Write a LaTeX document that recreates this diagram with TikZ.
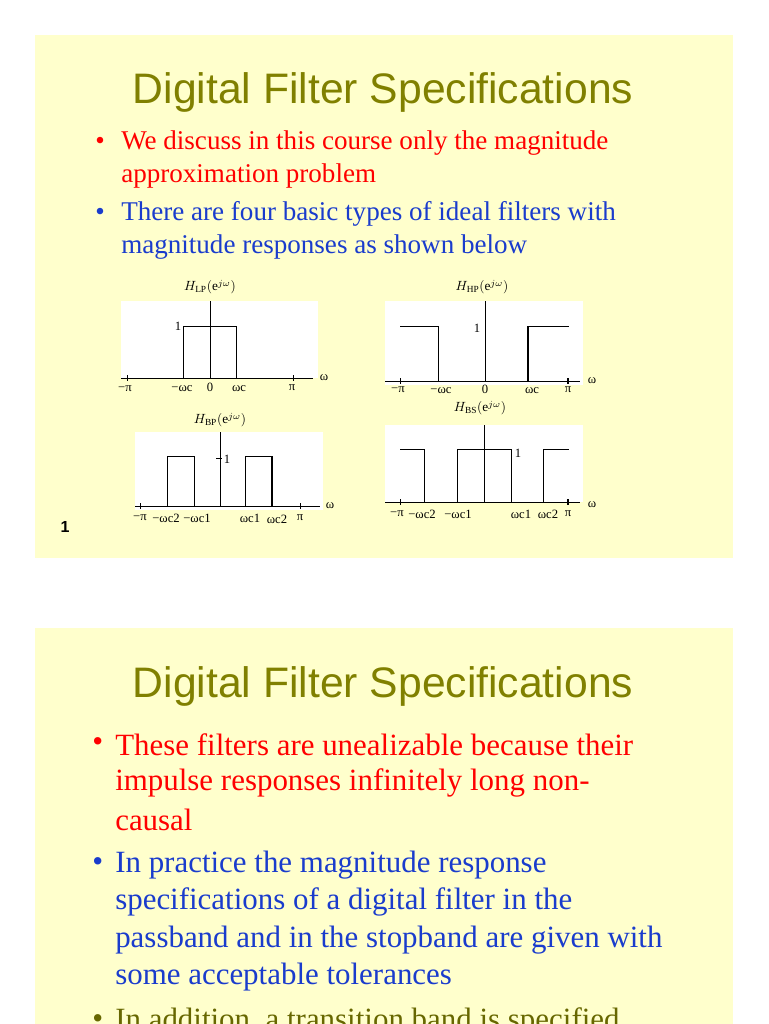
\documentclass[tikz,border=0pt]{standalone}
\usepackage{fontspec}
\setmainfont{Liberation Serif}
\newfontfamily\titlefont{Liberation Sans}
\definecolor{slidebg}{HTML}{FFFFCC}
\definecolor{titlecol}{HTML}{808000}
\definecolor{bred}{HTML}{FF0000}
\definecolor{bblue}{HTML}{1A3CCC}
\begin{document}
\begin{tikzpicture}[x=0.75pt,y=-0.75pt,
  title/.style={font=\titlefont\fontsize{32}{34}\selectfont,text=titlecol},
  bulA/.style={anchor=west,inner sep=0,font=\fontsize{20.3}{22}\selectfont},
  bulB/.style={anchor=west,inner sep=0,font=\fontsize{23.2}{26}\selectfont},
  lab/.style={font=\fontsize{9.5}{10}\selectfont,inner sep=1pt},
  hlab/.style={font=\fontsize{10}{11}\selectfont,inner sep=1pt},
  curve/.style={line width=0.6pt}]
\useasboundingbox (0,0) rectangle (768,1024);
\clip (0,0) rectangle (768,1024);
\fill[white] (0,0) rectangle (768,1024);
\fill[slidebg] (35,35) rectangle (733,558);
\fill[slidebg] (35,628) rectangle (733,1030);
% slide 1
\node[title] (t1) at (383,92) {Digital Filter Specifications};
\node[bulA,text=bred] (b1) at (95,143) {•};
\node[bulA,text=bred] (b1a) at (121,143) {We discuss in this course only the magnitude};
\node[bulA,text=bred] (b1b) at (121,176) {approximation problem};
\node[bulA,text=bblue] (b2) at (95,214) {•};
\node[bulA,text=bblue] (b2a) at (121,214) {There are four basic types of ideal filters with};
\node[bulA,text=bblue] (b2b) at (121,247) {magnitude responses as shown below};
\node[font=\titlefont\bfseries\fontsize{12}{12}\selectfont] (pg) at (65,527) {1};
% LP
\fill[white] (121,301) rectangle (318,378);
\draw (121,378) -- (313,378);
\draw (127,375) -- (127,381); \draw (293,375) -- (293,381);
\draw (210,301) -- (210,378);
\draw[curve] (183,378) -- (183,326) -- (236,326) -- (236,378);
\node[hlab] (hlp) at (210,287) {$H_{\mathrm{LP}}(\mathrm{e}^{j\omega})$};
\node[lab] (l1) at (178,326) {1};
\node[lab] (lw) at (324,378) {ω};
\node[lab] (lm) at (125,389) {−π};
\node[lab] (lmc) at (182,389) {−ωc};
\node[lab] (l0) at (210,387) {0};
\node[lab] (lc) at (239,389) {ωc};
\node[lab] (lp) at (292,388) {π};
% HP
\fill[white] (385,301) rectangle (583,385);
\draw (385,381) -- (580,381);
\draw (400,378) -- (400,384); \draw[thick] (568,378) -- (568,384);
\draw (485,301) -- (485,381);
\draw[curve] (400,326) -- (438,326) -- (438,381);
\draw[curve] (528,381) -- (528,326) -- (569,326);
\draw[line width=1.2pt] (528,381) -- (528,326);
\node[hlab] (hhp) at (482,287) {$H_{\mathrm{HP}}(\mathrm{e}^{j\omega})$};
\node[lab] (h1) at (477,328) {1};
\node[lab] (hw) at (592,381) {ω};
\node[lab] (hm) at (398,390) {−π};
\node[lab] (hmc) at (441,391) {−ωc};
\node[lab] (h0) at (485,389) {0};
\node[lab] (hc) at (532,391) {ωc};
\node[lab] (hp) at (568,390) {π};
% BP
\fill[white] (135,432) rectangle (323,510);
\draw (135,506) -- (320,506);
\draw (140,503) -- (140,509); \draw (300,503) -- (300,509);
\draw (220,432) -- (220,506);
\draw[curve] (167,506) -- (167,456) -- (194,456) -- (194,506);
\draw[curve] (245,506) -- (245,456) -- (272,456) -- (272,506);
\draw[line width=1.2pt] (272,456) -- (272,506);
\draw (216,458) -- (222,458);
\node[hlab] (hbp) at (220,420) {$H_{\mathrm{BP}}(\mathrm{e}^{j\omega})$};
\node[lab] (b1l) at (227,459) {1};
\node[lab] (bw) at (330,506) {ω};
\node[lab] (bm) at (140,518) {−π};
\node[lab] (bm2) at (166,518) {−ωc2};
\node[lab] (bm1) at (197,518) {−ωc1};
\node[lab] (bc1) at (250,518) {ωc1};
\node[lab] (bc2) at (277,519) {ωc2};
\node[lab] (bp) at (300,518) {π};
% BS
\fill[white] (385,425) rectangle (583,502);
\draw (385,502) -- (580,502);
\draw (400,499) -- (400,505); \draw[thick] (568,499) -- (568,505);
\draw (484,425) -- (484,502);
\draw[curve] (400,449) -- (424,449) -- (424,502);
\draw[curve] (457,502) -- (457,449) -- (511,449) -- (511,502);
\draw[curve] (543,502) -- (543,449) -- (569,449);
\node[hlab] (hbs) at (480,408) {$H_{\mathrm{BS}}(\mathrm{e}^{j\omega})$};
\node[lab] (s1) at (518,453) {1};
\node[lab] (sw) at (592,505) {ω};
\node[lab] (sm) at (397,514) {−π};
\node[lab] (sm2) at (422,514) {−ωc2};
\node[lab] (sm1) at (458,514) {−ωc1};
\node[lab] (sc1) at (521,514) {ωc1};
\node[lab] (sc2) at (548,514) {ωc2};
\node[lab] (sp) at (568,514) {π};
% slide 2
\node[title] (t2) at (383,686) {Digital Filter Specifications};
\node[bulB,text=bred] (c1) at (92,745) {•};
\node[bulB,text=bred] (c1a) at (115,745) {These filters are unealizable because their};
\node[bulB,text=bred] (c1b) at (115,783) {impulse responses infinitely long non-};
\node[bulB,text=bred] (c1c) at (115,820) {causal};
\node[bulB,text=bblue] (c2) at (92,865) {•};
\node[bulB,text=bblue] (c2a) at (115,865) {In practice the magnitude response};
\node[bulB,text=bblue] (c2b) at (115,902) {specifications of a digital filter in the};
\node[bulB,text=bblue] (c2c) at (115,940) {passband and in the stopband are given with};
\node[bulB,text=bblue] (c2d) at (115,977) {some acceptable tolerances};
\node[bulB,text=titlecol!80!black] (c3) at (92,1022) {•};
\node[bulB,text=titlecol!80!black] (c3a) at (115,1022) {In addition, a transition band is specified};
\end{tikzpicture}
\end{document}
